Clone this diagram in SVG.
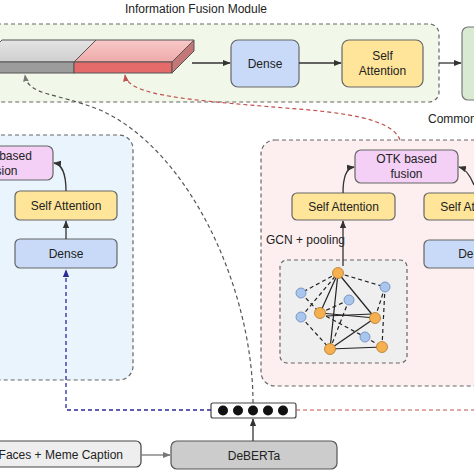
<svg xmlns="http://www.w3.org/2000/svg" width="474" height="474" viewBox="0 0 474 474">
<style>
text{font-family:"Liberation Sans",Arial,sans-serif;font-size:12px;fill:#222;text-anchor:middle}
.box{stroke:#666;stroke-width:1.2}
.dense{fill:#c9daf8}
.sa{fill:#ffe599}
.otk{fill:#f4d0f6}
.cont{stroke:#666;stroke-width:1.2;stroke-dasharray:4 3}
.ln{stroke:#333;stroke-width:1.3;fill:none}
.ge{stroke:#222;stroke-width:1.2}
.gd{stroke:#222;stroke-width:1.2;stroke-dasharray:4 3}
.on{fill:#f6b04f;stroke:#b07a2a;stroke-width:0.8}
.bn{fill:#a9c6ef;stroke:#6a88b5;stroke-width:0.8}
</style>
<defs>
<marker id="ah" viewBox="0 0 10 10" refX="9" refY="5" markerWidth="6" markerHeight="6" orient="auto"><path d="M0,1 L10,5 L0,9 z" fill="#333"/></marker>
<marker id="ahg" viewBox="0 0 10 10" refX="9" refY="5" markerWidth="6" markerHeight="6" orient="auto"><path d="M0,1 L10,5 L0,9 z" fill="#777"/></marker>
<marker id="ahb" viewBox="0 0 10 10" refX="9" refY="5" markerWidth="6" markerHeight="6" orient="auto"><path d="M0,1 L10,5 L0,9 z" fill="#2b2b96"/></marker>
<marker id="ahr" viewBox="0 0 10 10" refX="9" refY="5" markerWidth="6" markerHeight="6" orient="auto"><path d="M0,1 L10,5 L0,9 z" fill="#c0504d"/></marker>
<linearGradient id="gt" x1="0" y1="0" x2="0" y2="1"><stop offset="0" stop-color="#e4e4e4"/><stop offset="1" stop-color="#cfcfcf"/></linearGradient>
<linearGradient id="rt" x1="0" y1="0" x2="0" y2="1"><stop offset="0" stop-color="#f8c8c8"/><stop offset="1" stop-color="#eeaaaa"/></linearGradient>
</defs>

<!-- containers -->
<g id="fusion-module">
<rect class="cont" x="-20" y="24" width="459" height="78" rx="10" fill="#f1f8ea"/>
<text x="196" y="13">Information Fusion Module</text>
</g>
<g id="left-module"><rect class="cont" x="-20" y="135" width="153" height="245" rx="14" fill="#eaf4fd"/></g>
<g id="right-module"><rect class="cont" x="261" y="140" width="240" height="246" rx="14" fill="#fdefef"/></g>
<g id="common-label"><text x="428" y="123" style="text-anchor:start">Common</text></g>

<!-- slab -->
<g id="concat-vector" stroke="#555" stroke-width="1">
<polygon points="-20,62 74,62 96,40 2,40" fill="url(#gt)"/>
<rect x="-20" y="62" width="94" height="11" fill="#9c9c9c"/>
<polygon points="74,62 172,62 194,40 96,40" fill="url(#rt)"/>
<rect x="74" y="62" width="98" height="11" fill="#e56b6b"/>
<polygon points="172,62 194,40 194,51 172,73" fill="#c47777"/>
</g>

<g id="dense-top"><rect class="box dense" x="231" y="40" width="68" height="47" rx="7"/><text x="265" y="68">Dense</text></g>
<g id="sa-top"><rect class="box sa" x="342" y="40" width="81" height="47" rx="7"/><text x="382.5" y="60">Self</text><text x="382.5" y="75">Attention</text></g>
<g id="output-box"><rect x="462" y="27" width="40" height="73" rx="6" fill="#d9ead3" stroke="#777" stroke-width="1.2"/></g>

<!-- left module nodes -->
<g id="otk-left"><rect class="box otk" x="-50" y="146" width="103" height="34" rx="6"/><text x="1.5" y="160">OTK based</text><text x="1.5" y="175">fusion</text></g>
<g id="sa-left"><rect class="box sa" x="15" y="191" width="102" height="29" rx="5"/><text x="66" y="210">Self Attention</text></g>
<g id="dense-left"><rect class="box dense" x="15" y="239" width="102" height="29" rx="5"/><text x="66" y="258">Dense</text></g>

<!-- right module nodes -->
<g id="otk-right"><rect class="box otk" x="355" y="150" width="103" height="33" rx="6"/><text x="406.5" y="163">OTK based</text><text x="406.5" y="178">fusion</text></g>
<g id="sa-right1"><rect class="box sa" x="292" y="193" width="103" height="27" rx="5"/><text x="343.5" y="211">Self Attention</text></g>
<g id="sa-right2"><rect class="box sa" x="424" y="193" width="103" height="27" rx="5"/><text x="475.5" y="211">Self Attention</text></g>
<g id="dense-right"><rect class="box dense" x="424" y="240" width="103" height="28" rx="5"/><text x="475.5" y="258">Dense</text></g>
<g id="gcn-label"><text x="266" y="244" style="text-anchor:start">GCN + pooling</text></g>

<!-- graph -->
<g id="graph">
<rect x="280" y="260" width="127" height="103" rx="7" fill="#efefef" stroke="#666" stroke-width="1.2" stroke-dasharray="4 3"/>
<line class="gd" x1="338" y1="273" x2="301" y2="293"/>
<line class="gd" x1="338" y1="273" x2="385" y2="287"/>
<line class="gd" x1="301" y1="293" x2="320" y2="313"/>
<line class="gd" x1="301" y1="317" x2="330" y2="349"/>
<line class="gd" x1="301" y1="317" x2="338" y2="273"/>
<line class="gd" x1="349" y1="300" x2="320" y2="313"/>
<line class="gd" x1="349" y1="300" x2="330" y2="349"/>
<line class="gd" x1="385" y1="287" x2="375" y2="318"/>
<line class="gd" x1="385" y1="287" x2="382" y2="347"/>
<line class="gd" x1="320" y1="313" x2="365" y2="337"/>
<line class="gd" x1="365" y1="337" x2="382" y2="347"/>
<line class="ge" x1="338" y1="273" x2="320" y2="313"/>
<line class="ge" x1="338" y1="273" x2="330" y2="349"/>
<line class="ge" x1="338" y1="273" x2="375" y2="318"/>
<line class="ge" x1="320" y1="313" x2="375" y2="318"/>
<line class="ge" x1="326" y1="316" x2="372" y2="314"/>
<line class="ge" x1="375" y1="318" x2="330" y2="349"/>
<line class="ge" x1="330" y1="349" x2="382" y2="347"/>
<circle class="on" cx="338" cy="273" r="5.5"/>
<circle class="on" cx="320" cy="313" r="5.5"/>
<circle class="on" cx="375" cy="318" r="5.5"/>
<circle class="on" cx="330" cy="349" r="5.5"/>
<circle class="on" cx="382" cy="347" r="5.5"/>
<circle class="bn" cx="301" cy="293" r="5"/>
<circle class="bn" cx="301" cy="317" r="5"/>
<circle class="bn" cx="349" cy="300" r="5"/>
<circle class="bn" cx="385" cy="287" r="5"/>
<circle class="bn" cx="365" cy="337" r="5"/>
</g>

<!-- bottom -->
<g id="embedding-vector">
<rect x="211" y="403" width="85" height="15" rx="2" fill="#fff" stroke="#444" stroke-width="1.2"/>
<circle cx="223" cy="410.5" r="5" fill="#111"/><circle cx="238" cy="410.5" r="5" fill="#111"/><circle cx="253" cy="410.5" r="5" fill="#111"/><circle cx="268" cy="410.5" r="5" fill="#111"/><circle cx="283" cy="410.5" r="5" fill="#111"/>
</g>
<g id="deberta"><rect x="171" y="441" width="166" height="28" rx="6" fill="#cccccc" stroke="#555" stroke-width="1.2"/><text x="254" y="460">DeBERTa</text></g>
<g id="caption-input"><rect x="-10" y="441" width="151" height="26" rx="5" fill="#eeeeee" stroke="#444" stroke-width="1.2"/><text x="123" y="459" style="text-anchor:end">Faces + Meme Caption</text></g>

<!-- connectors -->
<g id="connectors">
<line class="ln" x1="192" y1="63" x2="230" y2="63" marker-end="url(#ah)"/>
<line class="ln" x1="299" y1="63" x2="341" y2="63" marker-end="url(#ah)"/>
<line class="ln" x1="439" y1="63" x2="461" y2="63" marker-end="url(#ah)"/>
<line class="ln" x1="66" y1="239" x2="66" y2="221" marker-end="url(#ah)"/>
<path class="ln" d="M66,191 C66,175 62,164 54,163" marker-end="url(#ah)"/>
<line class="ln" x1="343" y1="266" x2="343" y2="221" marker-end="url(#ah)"/>
<path class="ln" d="M343,193 C343,178 346,168 354,167" marker-end="url(#ah)"/>
<path class="ln" d="M474,185 C470,175 466,169 459,167" marker-end="url(#ah)"/>
<line class="ln" x1="253" y1="441" x2="253" y2="419" marker-end="url(#ah)"/>
<line x1="141" y1="455" x2="170" y2="455" stroke="#777" stroke-width="1.3" marker-end="url(#ahg)"/>
<path d="M211,410 L66,410 L66,270" fill="none" stroke="#2b2b96" stroke-width="1.3" stroke-dasharray="4 3" marker-end="url(#ahb)"/>
<line x1="296" y1="410" x2="474" y2="410" stroke="#c0504d" stroke-width="1.2" stroke-dasharray="4 3"/>
<path d="M253,403 C253,290 190,150 100,110 C55,92 28,96 25,75" fill="none" stroke="#555" stroke-width="1.2" stroke-dasharray="4 3" marker-end="url(#ahg)"/>
<path d="M400,140 C392,118 340,112 285,108 C190,100 128,96 125,75" fill="none" stroke="#c0504d" stroke-width="1.2" stroke-dasharray="4 3" marker-end="url(#ahr)"/>
</g>
</svg>
